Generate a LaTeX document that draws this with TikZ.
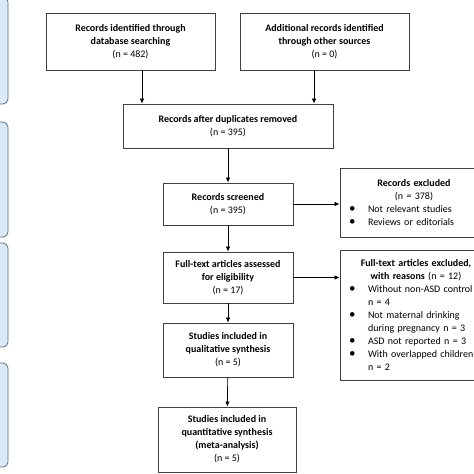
\documentclass[tikz,border=0pt]{standalone}
\usepackage{fontspec}
\setmainfont{Carlito}
\usetikzlibrary{positioning,arrows.meta}
\definecolor{stagefill}{HTML}{D9E9F8}
\definecolor{stageline}{HTML}{5E6E80}
\newcommand{\bul}{\hspace*{3pt}\makebox[19pt][l]{\scalebox{1.3}{\textbullet}}}
\newcommand{\cont}{\hspace*{22pt}}
\tikzset{
  box/.style   = {draw=black!75, line width=0.9pt, align=center,
                  font=\fontsize{10}{13}\selectfont, inner sep=2pt},
  lst/.style   = {draw=black!75, line width=0.9pt, text width=136pt,
                  inner xsep=6pt, inner ysep=2pt,
                  font=\fontsize{10}{13}\selectfont},
  stage/.style = {draw=stageline, fill=stagefill, line width=0.8pt,
                  rounded corners=5pt, rotate=90, minimum height=28pt,
                  font=\bfseries\fontsize{10}{12}\selectfont},
  ar/.style    = {-{Latex[length=5pt,width=4.5pt]}, line width=0.7pt},
}
\begin{document}
\begin{tikzpicture}[x=1pt, y=-1pt]
\useasboundingbox (0,0) rectangle (474,474);
\clip (0,0) rectangle (474,474);

% --- stages ---
\node[stage, minimum width=107pt] (ident) at (-6,50.5) {Identification};
\node[stage, minimum width=115pt] (screen) at (-6,179.5) {Screening};
\node[stage, minimum width=104pt] (elig) at (-6,295) {Eligibility};
\node[stage, minimum width=104pt] (incl) at (-6,415) {Included};

% --- identification ---
\node[box, minimum width=169pt, minimum height=57pt] (dbs) at (130.5,41.5)
     {\textbf{Records identified through}\\
      \textbf{database searching}\\
      (n = 482)};
\node[box, minimum width=169pt, minimum height=57pt] (other) at (324.5,41.5)
     {\textbf{Additional records identified}\\
      \textbf{through other sources}\\
      (n = 0)};

% --- screening ---
\node[box, minimum width=210pt, minimum height=44pt] (dup) at (228,126)
     {\textbf{Records after duplicates removed}\\
      (n = 395)};
\node[box, minimum width=130pt, minimum height=42pt] (scr) at (228,204)
     {\textbf{Records screened}\\
      (n = 395)};
\node[lst, minimum height=69pt] (excl) at (414,202.5)
     {\centering\textbf{Records excluded}\\(n = 378)\par\raggedright
      \bul Not relevant studies\\
      \bul Reviews or editorials};

% --- eligibility ---
\node[box, minimum width=130pt, minimum height=51pt] (ft) at (228,277.5)
     {\textbf{Full-text articles assessed}\\
      \textbf{for eligibility}\\
      (n = 17)};
\node[lst, text width=140pt, minimum height=130pt] (fte) at (416,315)
     {\centering\textbf{Full-text articles excluded,}\\
      \textbf{with reasons} (n = 12)\par\raggedright
      \bul Without non-ASD control\\
      \cont n = 4\\
      \bul Not maternal drinking\\
      \cont during pregnancy n = 3\\
      \bul ASD not reported n = 3\\
      \bul With overlapped children\\
      \cont n = 2};

% --- included ---
\node[box, minimum width=130pt, minimum height=54pt] (qual) at (228,350)
     {\textbf{Studies included in}\\
      \textbf{qualitative synthesis}\\
      (n = 5)};
\node[box, minimum width=138pt, minimum height=65pt] (quant) at (227,439.5)
     {\textbf{Studies included in}\\
      \textbf{quantitative synthesis}\\
      \textbf{(meta-analysis)}\\
      (n = 5)};

% --- arrows ---
\draw[ar] ([xshift=11.5pt]dbs.south) -- ([xshift=11.5pt]dbs.south |- dup.north);
\draw[ar] ([xshift=-10.5pt]other.south) -- ([xshift=-10.5pt]other.south |- dup.north);
\draw[ar] (dup) -- (scr);
\draw[ar] (scr.east) -- (scr.east -| excl.west);
\draw[ar] (scr) -- (ft);
\draw[ar] (ft.east) -- (ft.east -| fte.west);
\draw[ar] (ft) -- (qual);
\draw[ar] (qual) -- (quant);
\end{tikzpicture}
\end{document}
